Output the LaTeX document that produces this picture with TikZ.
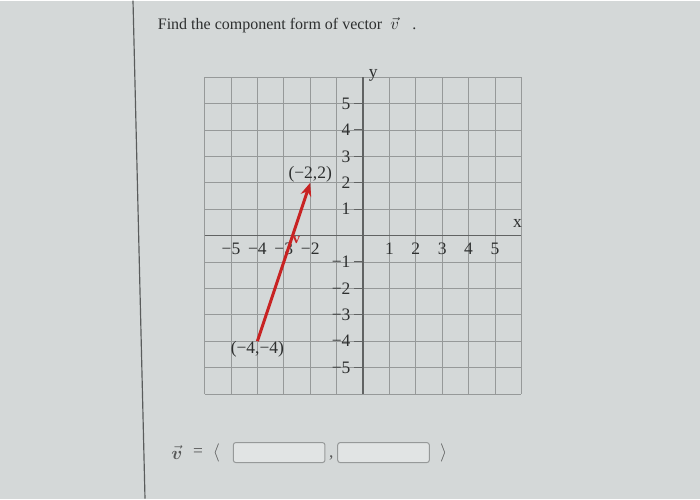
\documentclass[tikz,border=0pt]{standalone}
\usepackage{amsmath}
\usepackage{fontspec}
\setmainfont{Liberation Serif}
\usetikzlibrary{positioning,arrows.meta}
\definecolor{screen}{RGB}{212,216,216}
\definecolor{gridgray}{RGB}{150,153,153}
\definecolor{inkgray}{RGB}{45,47,47}
\definecolor{vecred}{RGB}{200,35,35}

\begin{document}
\begin{tikzpicture}[x=0.6pt,y=-0.6pt,
	tick label/.style={inner sep=1pt,font=\fontsize{10.5}{12}\selectfont,text=inkgray},
	row node/.style={inner sep=1pt,font=\fontsize{10.5}{12}\selectfont,text=inkgray!80},
	answer box/.style={draw=gridgray,fill=white!30!screen,rounded corners=1.5pt,line width=0.6pt,
		minimum width=55pt,minimum height=12pt,inner sep=0pt},
	vec/.style={-{Stealth[length=8pt,width=6.5pt]},line width=1.8pt,color=vecred}]

	\fill[screen] (0,0) rectangle (700,498);
	\draw[gridgray!60!black,line width=0.7pt] (133,0) -- (145,498);

	\node[anchor=west,font=\fontsize{9.6}{12}\selectfont,text=inkgray] (title) at (152,25)
		{Find the component form of vector\ \ $\vec{v}$\hspace{8pt}.};

	\begin{scope}[shift={(363,235)},x=15.84pt,y=15.84pt]
		\draw[gridgray,line width=0.55pt,step={(1,1)}] (-6,-6) grid (6,6);
		\draw[inkgray!75,line width=0.7pt] (-6,0) -- (6,0) (0,-6) -- (0,6);
		\foreach \k in {1,...,5} {
			\draw[inkgray!75,line width=0.6pt] (-0.35,\k) -- (0,\k) (-0.35,-\k) -- (0,-\k);
			\node[tick label,anchor=east] at (-0.4,\k) {\k};
			\node[tick label,anchor=east] at (-0.4,-\k) {−\k};
			\node[tick label,anchor=north] at (\k,-0.2) {\k};
		}
		\foreach \k in {2,...,5}
			\node[tick label,anchor=north] at (-\k,-0.2) {−\k};
		\node[tick label,anchor=west] (ylab) at (0.15,6.05) {y};
		\node[tick label] (xlab) at (5.85,0.45) {x};

		\coordinate (tail) at (-4,-4);
		\coordinate (head) at (-2,2);
		\draw[vec] (tail) -- node[pos=0.64,right=-1pt,inner sep=1pt,font=\bfseries\small,text=vecred] {v} (head);
		\node[tick label,above=-1pt of head] (headlab) {(−2,2)};
		\node[tick label,below=-1pt of tail] (taillab) {(−4,−4)};
	\end{scope}

	\node[row node] (vv) at (177,452) {$\vec{\boldsymbol{v}}$};
	\node[row node] (eq) [right=4pt of vv] {=};
	\node[row node] (lang) [right=3.5pt of eq] {$\langle$};
	\node[answer box] (box1) [right=6.5pt of lang] {};
	\node[row node] (comma) [right=1pt of box1,yshift=-3pt] {,};
	\node[answer box] (box2) [right=1pt of comma,yshift=3pt] {};
	\node[row node] (rang) [right=5pt of box2] {$\rangle$};
\end{tikzpicture}
\end{document}
